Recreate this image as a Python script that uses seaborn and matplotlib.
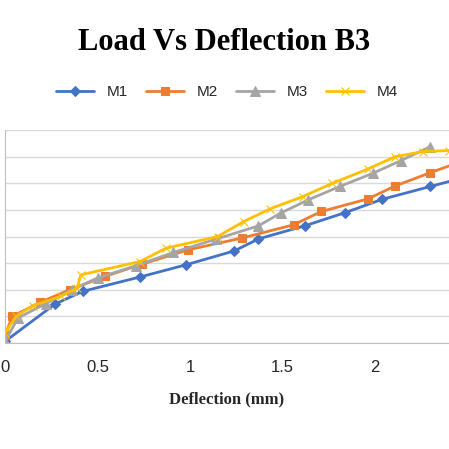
import matplotlib
matplotlib.use("Agg")
import matplotlib.pyplot as plt
import seaborn as sns
import pandas as pd

sns.set_style("white")

# series (deflection in mm, load in gridline units)
m1_x = [0, 0.27, 0.42, 0.73, 0.98, 1.24, 1.37, 1.62, 1.84, 2.04, 2.30, 2.50]
m1_y = [0.06, 1.46, 1.94, 2.48, 2.94, 3.46, 3.91, 4.40, 4.90, 5.40, 5.88, 6.25]
m2_x = [0, 0, 0.04, 0.19, 0.35, 0.54, 0.74, 0.99, 1.28, 1.56, 1.71, 1.96, 2.11, 2.30, 2.50]
m2_y = [0.1, 0.5, 1.0, 1.53, 2.0, 2.5, 2.96, 3.5, 3.94, 4.44, 4.94, 5.41, 5.9, 6.4, 6.9]
m3_x = [0, 0.07, 0.22, 0.36, 0.50, 0.71, 0.91, 1.14, 1.37, 1.49, 1.64, 1.81, 1.99, 2.14, 2.30]
m3_y = [0.06, 0.94, 1.48, 2.0, 2.44, 2.91, 3.4, 3.9, 4.4, 4.88, 5.38, 5.88, 6.38, 6.85, 7.38]
m4_x = [0, 0.06, 0.15, 0.30, 0.39, 0.41, 0.73, 0.87, 1.15, 1.29, 1.43, 1.61, 1.77, 1.96, 2.11, 2.26, 2.40, 2.59]
m4_y = [0.38, 1.0, 1.4, 1.75, 2.06, 2.56, 3.06, 3.56, 4.0, 4.56, 5.03, 5.5, 6.0, 6.53, 7.0, 7.19, 7.23, 7.3]

series = [
    ("M1", m1_x, m1_y, "#4472C4", "D", 5),
    ("M2", m2_x, m2_y, "#ED7D31", "s", 6),
    ("M3", m3_x, m3_y, "#A5A5A5", "^", 7),
    ("M4", m4_x, m4_y, "#FFC000", "x", 6),
]

fig = plt.figure(figsize=(4.49, 4.49), dpi=100)
ax = fig.add_axes([5 / 449, 1 - 343 / 449, 1 - 5 / 449, 213 / 449])

for name, xs, ys, color, marker, ms in series:
    df = pd.DataFrame({"x": xs, "y": ys})
    sns.lineplot(data=df, x="x", y="y", ax=ax, color=color, marker=marker,
                 markersize=ms, markeredgecolor=color, linewidth=2,
                 label=name, sort=False)

ax.set_xlim(0, 2.4)
ax.set_ylim(0, 8)
ax.set_xticks([0, 0.5, 1, 1.5, 2])
ax.set_xticklabels(["0", "0.5", "1", "1.5", "2"], fontsize=12,
                   family="Liberation Sans")
ax.tick_params(axis="x", length=0, pad=12)
ax.set_yticks(range(0, 9))
ax.set_yticklabels([])
ax.tick_params(axis="y", length=0)
ax.yaxis.grid(True, color="#d9d9d9", linewidth=1)
for s in ["top", "right"]:
    ax.spines[s].set_visible(False)
ax.spines["left"].set_color("#bfbfbf")
ax.spines["bottom"].set_color("#bfbfbf")
ax.set_xlabel("Deflection (mm)", fontsize=12, fontweight="bold",
              family="Liberation Serif", labelpad=12)
ax.set_ylabel("")

ax.legend(loc="lower center", bbox_to_anchor=(0.5, 1.08), ncol=4,
          frameon=False, handlelength=2.5, columnspacing=1.2,
          prop={"family": "Liberation Sans", "size": 11})

fig.text(0.5, 1 - 42 / 449, "Load Vs Deflection B3", ha="center", va="center",
         fontsize=22, fontweight="bold", family="Liberation Serif", color="black")

fig.savefig("out.png", dpi=100)
